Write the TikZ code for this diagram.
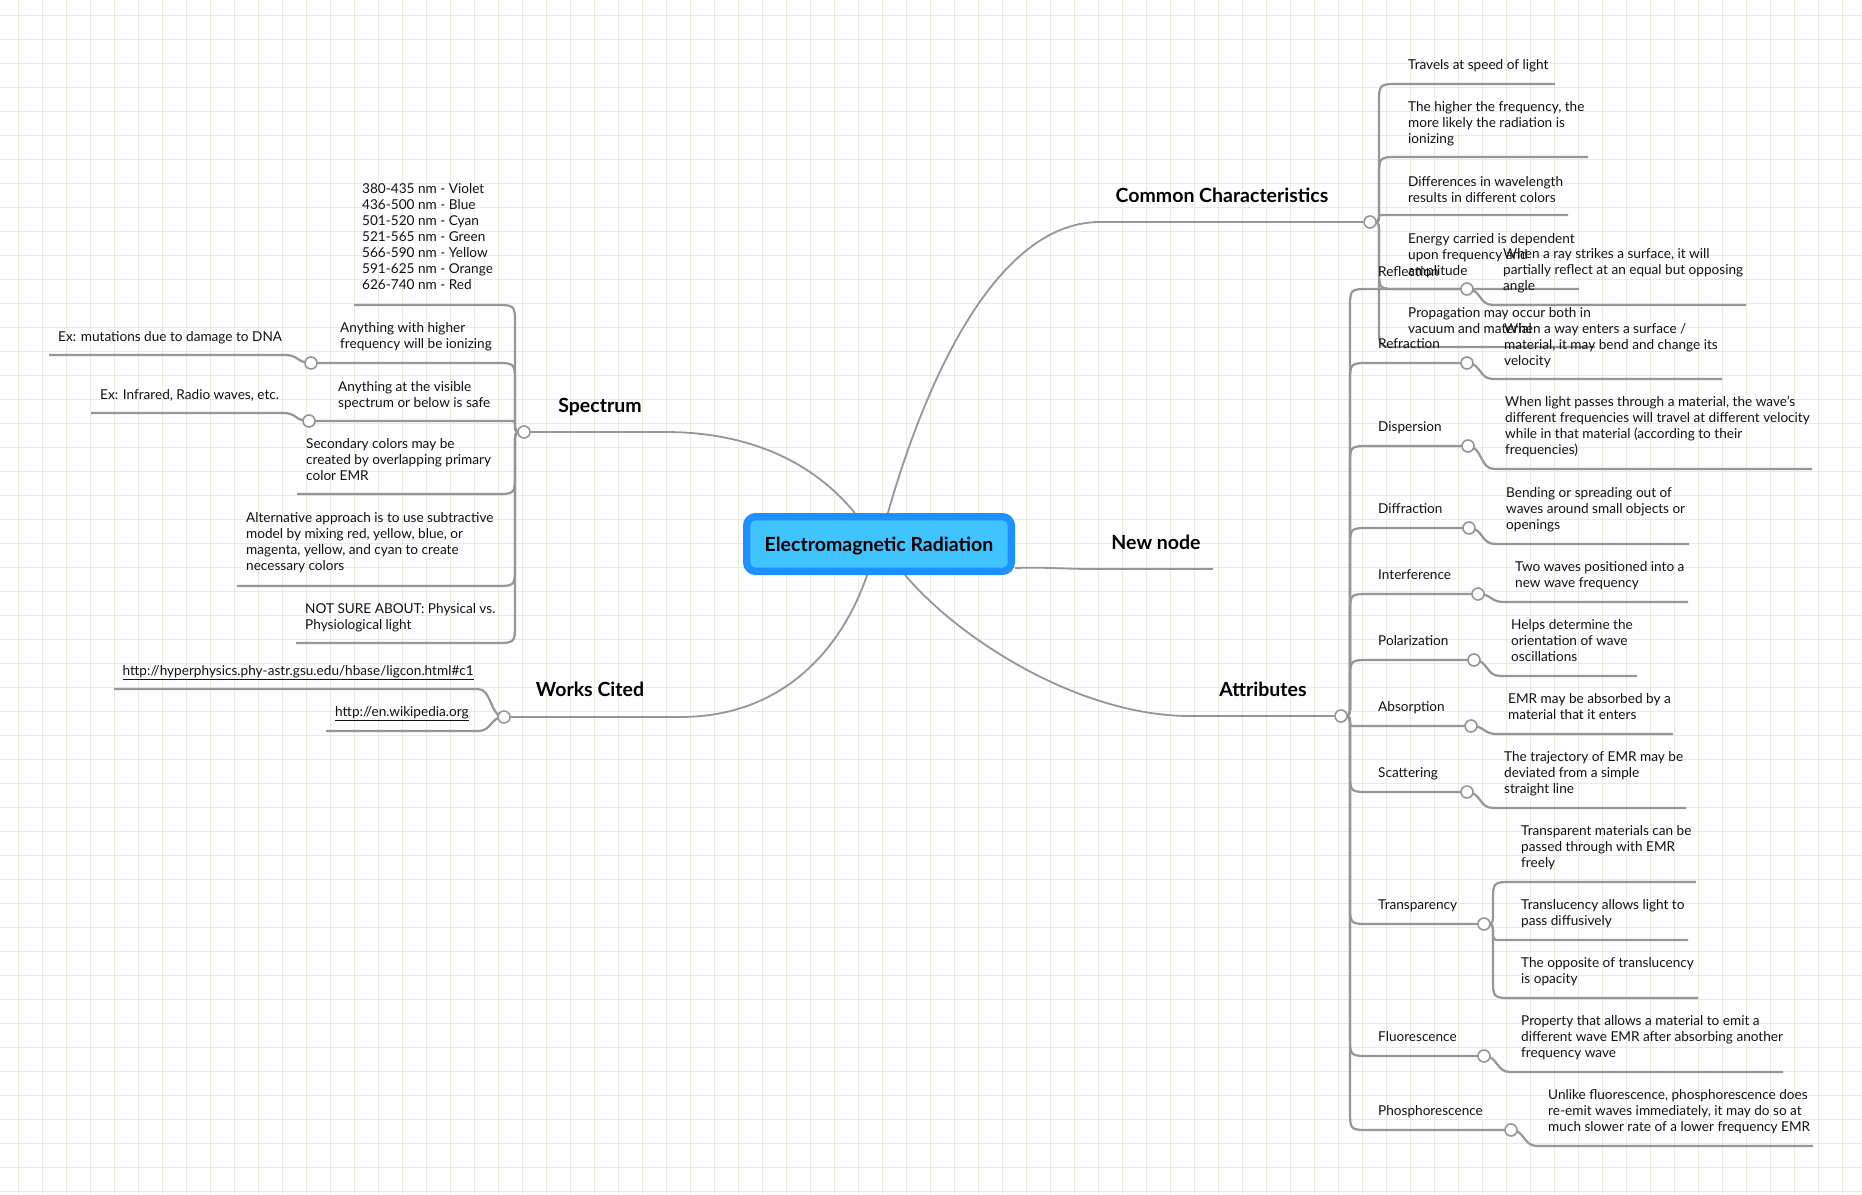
\documentclass[tikz,border=0pt]{standalone}
\usepackage{fontspec}
\setmainfont{Lato}
\usetikzlibrary{calc}
\pgfdeclarelayer{bg}
\pgfsetlayers{bg,main}
\definecolor{gridc}{HTML}{E4EEDC}
\definecolor{linec}{HTML}{969696}
\definecolor{rootline}{HTML}{1E90FF}
\definecolor{rootfill}{HTML}{40C4FF}
\definecolor{txtc}{HTML}{111111}
\begin{document}
\begin{tikzpicture}[x=1pt,y=-1pt,
  gridline/.style={gridc, line width=1pt},
  mainline/.style={linec, line width=1.8pt},
  conn/.style={linec, line width=2.2pt},
  knob/.style={circle, draw=linec, fill=white, line width=1.6pt, minimum size=12pt, inner sep=0pt},
  txt/.style={anchor=base west, inner sep=0pt, align=left, text=txtc, font=\fontsize{13.6}{16}\selectfont},
  topic/.style={anchor=base, inner sep=0pt, text=black, font=\fontsize{19.5}{22}\selectfont\bfseries},
  rootbox/.style={rounded corners=9pt, draw=rootline, line width=7.3pt, fill=rootfill,
    minimum width=264.7pt, minimum height=54.7pt, inner sep=0pt, text height=14pt, text depth=0pt,
    font=\fontsize{19.5}{22}\selectfont\bfseries},
  rbr/.style={to path={let \p1=(\tikztostart), \p2=(\tikztotarget),
    \n1={ifthenelse(\y2>\y1,1,-1)}, \n2={min(12,abs(\y2-\y1)/2)}, \n3={min(20,abs(\y2-\y1)/2)} in
    (\p1) .. controls (\x1+9pt,\y1) and (\x1+9pt,\y1) .. (\x1+9pt,\y1+\n1*\n2)
    -- (\x1+9pt,\y2-\n1*\n3) .. controls (\x1+9pt,\y2) and (\x1+9pt,\y2) .. (\x1+9pt+\n3,\y2) -- (\p2)}},
  lbr/.style={to path={let \p1=(\tikztostart), \p2=(\tikztotarget),
    \n1={ifthenelse(\y2>\y1,1,-1)}, \n2={min(12,abs(\y2-\y1)/2)}, \n3={min(20,abs(\y2-\y1)/2)} in
    (\p1) .. controls (\x1-9pt,\y1) and (\x1-9pt,\y1) .. (\x1-9pt,\y1+\n1*\n2)
    -- (\x1-9pt,\y2-\n1*\n3) .. controls (\x1-9pt,\y2) and (\x1-9pt,\y2) .. (\x1-9pt-\n3,\y2) -- (\p2)}},
  rs/.style={to path={let \p1=(\tikztostart), \p2=(\tikztotarget) in
    (\p1) .. controls (\x1+14pt,\y1) and (\x1+12pt,\y2) .. (\x1+26pt,\y2) -- (\p2)}},
  ls/.style={to path={let \p1=(\tikztostart), \p2=(\tikztotarget) in
    (\p1) .. controls (\x1-14pt,\y1) and (\x1-12pt,\y2) .. (\x1-26pt,\y2) -- (\p2)}}
]
\useasboundingbox (0,0) rectangle (1862,1194);

% ---------- root ----------
\node[rootbox] (root) at (879,544) {Electromagnetic Radiation};

% ---------- topics ----------
\node[topic] (tsp) at (600,412.5) {Spectrum};
\node[topic] (twc) at (590,696.5) {Works Cited};
\node[topic] (tcc) at (1222,202.5) {Common Characteristics};
\node[topic] (tat) at (1263,696.5) {Attributes};
\node[topic] (tnn) at (1156,549.5) {New node};

\node[knob] (sp) at (524,432) {};
\node[knob] (wc) at (504,717) {};
\node[knob] (cc) at (1370,222) {};
\node[knob] (at) at (1341,716) {};
\coordinate (nne) at (1213,569);

% ---------- Common Characteristics children (base = last line) ----------
\node[txt] (c1) at (1408,69.5) {Travels at speed of light};
\node[txt] (c2) at (1408,143.5) {The higher the frequency, the\\more likely the radiation is\\ionizing};
\node[txt] (c3) at (1408,202.5) {Differences in wavelength\\results in different colors};
\node[txt] (c4) at (1408,275.5) {Energy carried is dependent\\upon frequency and\\amplitude};
\node[txt] (c5) at (1408,333.5) {Propagation may occur both in\\vacuum and material};
\coordinate (c1e) at (1555,84);
\coordinate (c2e) at (1588,157);
\coordinate (c3e) at (1568,215);
\coordinate (c4e) at (1579,289);
\coordinate (c5e) at (1595,347);

% ---------- Attributes children ----------
\node[txt] (a1) at (1378,276.5) {Reflection};
\node[txt] (a2) at (1378,348.5) {Refraction};
\node[txt] (a3) at (1378,431.5) {Dispersion};
\node[txt] (a4) at (1378,513.5) {Diffraction};
\node[txt] (a5) at (1378,579.5) {Interference};
\node[txt] (a6) at (1378,645.5) {Polarization};
\node[txt] (a7) at (1378,711.5) {Absorption};
\node[txt] (a8) at (1378,777.5) {Scattering};
\node[txt] (a9) at (1378,909.5) {Transparency};
\node[txt] (a10) at (1378,1041.5) {Fluorescence};
\node[txt] (a11) at (1378,1115.5) {Phosphorescence};

\node[knob] (k1) at (1467,289) {};
\node[knob] (k2) at (1467,363) {};
\node[knob] (k3) at (1468,446) {};
\node[knob] (k4) at (1469,528) {};
\node[knob] (k5) at (1478,594) {};
\node[knob] (k6) at (1474,660) {};
\node[knob] (k7) at (1471,726) {};
\node[knob] (k8) at (1467,792) {};
\node[knob] (k9) at (1484,924) {};
\node[knob] (k10) at (1484,1056) {};
\node[knob] (k11) at (1511,1130) {};

\node[txt] (g1) at (1503,290.5) {When a ray strikes a surface, it will\\partially reflect at an equal but opposing\\angle};
\node[txt] (g2) at (1504,365.5) {When a way enters a surface /\\material, it may bend and change its\\velocity};
\node[txt] (g3) at (1505,454.5) {When light passes through a material, the wave's\\different frequencies will travel at different velocity\\while in that material (according to their\\frequencies)};
\node[txt] (g4) at (1506,529.5) {Bending or spreading out of\\waves around small objects or\\openings};
\node[txt] (g5) at (1515,587.5) {Two waves positioned into a\\new wave frequency};
\node[txt] (g6) at (1511,661.5) {Helps determine the\\orientation of wave\\oscillations};
\node[txt] (g7) at (1508,719.5) {EMR may be absorbed by a\\material that it enters};
\node[txt] (g8) at (1504,793.5) {The trajectory of EMR may be\\deviated from a simple\\straight line};
\node[txt] (t1) at (1521,867.5) {Transparent materials can be\\passed through with EMR\\freely};
\node[txt] (t2) at (1521,925.5) {Translucency allows light to\\pass diffusively};
\node[txt] (t3) at (1521,983.5) {The opposite of translucency\\is opacity};
\node[txt] (g10) at (1521,1057.5) {Property that allows a material to emit a\\different wave EMR after absorbing another\\frequency wave};
\node[txt] (g11) at (1548,1131.5) {Unlike fluorescence, phosphorescence does\\re-emit waves immediately, it may do so at\\much slower rate of a lower frequency EMR};
\coordinate (g1e) at (1746,305);
\coordinate (g2e) at (1722,379);
\coordinate (g3e) at (1812,469);
\coordinate (g4e) at (1689,544);
\coordinate (g5e) at (1688,602);
\coordinate (g6e) at (1637,676);
\coordinate (g7e) at (1673,734);
\coordinate (g8e) at (1686,808);
\coordinate (t1e) at (1696,882);
\coordinate (t2e) at (1688,940);
\coordinate (t3e) at (1698,998);
\coordinate (g10e) at (1783,1072);
\coordinate (g11e) at (1813,1146);

% ---------- Spectrum children ----------
\node[txt] (s1) at (362,289.5) {380-435 nm - Violet\\436-500 nm - Blue\\501-520 nm - Cyan\\521-565 nm - Green\\566-590 nm - Yellow\\591-625 nm - Orange\\626-740 nm - Red};
\node[txt] (s2) at (340,348.5) {Anything with higher\\frequency will be ionizing};
\node[txt] (s3) at (338,407.5) {Anything at the visible\\spectrum or below is safe};
\node[txt] (s4) at (306,480.5) {Secondary colors may be\\created by overlapping primary\\color EMR};
\node[txt] (s5) at (246,570.5) {Alternative approach is to use subtractive\\model by mixing red, yellow, blue, or\\magenta, yellow, and cyan to create\\necessary colors};
\node[txt] (s6) at (305,629.5) {NOT SURE ABOUT: Physical vs.\\Physiological light};
\node[txt] (x1) at (58,341.5) {Ex: mutations due to damage to DNA};
\node[txt] (x2) at (100,399.5) {Ex: Infrared, Radio waves, etc.};
\node[knob] (e1) at (311,363) {};
\node[knob] (e2) at (309,421) {};
\coordinate (s1e) at (354,305);
\coordinate (s4e) at (297,494);
\coordinate (s5e) at (237,586);
\coordinate (s6e) at (296,643);
\coordinate (x1e) at (49,355);
\coordinate (x2e) at (91,413);

% ---------- Works Cited children ----------
\node[txt] (w1) at (122.5,675.5) {\underline{http://hyperphysics.phy-astr.gsu.edu/hbase/ligcon.html\#c1}};
\node[txt] (w2) at (335,716.5) {\underline{http://en.wikipedia.org}};
\coordinate (w1e) at (114,689);
\coordinate (w2e) at (326,731);

% ---------- background: grid and connectors ----------
\begin{pgfonlayer}{bg}
  \fill[white] (0,0) rectangle (1862,1194);
  \foreach \i in {0,...,76} \draw[gridline] (18+24*\i,0) -- (18+24*\i,1194);
  \foreach \j in {0,...,49} \draw[gridline] (0,15+24*\j) -- (1862,15+24*\j);

  % main branches
  \draw[mainline] (root.128) .. controls (820,470) and (760,432) .. (665,432) -- (sp);
  \draw[mainline] (root.-111) .. controls (845,640) and (790,717) .. (680,717) -- (wc);
  \draw[mainline] (root.74) .. controls (920,400) and (990,222) .. (1100,222) -- (cc);
  \draw[mainline] (root.-50) .. controls (960,640) and (1080,716) .. (1190,716) -- (at);
  \draw[mainline] (root.-10) .. controls (1050,567) and (1060,569) .. (1095,569) -- (nne);

  % common characteristics
  \foreach \t in {c1e,c2e,c3e,c4e,c5e} \draw[conn] (cc) to[rbr] (\t);
  % attributes
  \foreach \t in {k1,k2,k3,k4,k5,k6,k7,k8,k9,k10,k11} \draw[conn] (at) to[rbr] (\t);
  \draw[conn] (k1) to[rs] (g1e);
  \draw[conn] (k2) to[rs] (g2e);
  \draw[conn] (k3) to[rs] (g3e);
  \draw[conn] (k4) to[rs] (g4e);
  \draw[conn] (k5) to[rs] (g5e);
  \draw[conn] (k6) to[rs] (g6e);
  \draw[conn] (k7) to[rs] (g7e);
  \draw[conn] (k8) to[rs] (g8e);
  \foreach \t in {t1e,t2e,t3e} \draw[conn] (k9) to[rbr] (\t);
  \draw[conn] (k10) to[rs] (g10e);
  \draw[conn] (k11) to[rs] (g11e);
  % spectrum
  \foreach \t in {s1e,e1,e2,s4e,s5e,s6e} \draw[conn] (sp) to[lbr] (\t);
  \draw[conn] (e1) to[ls] (x1e);
  \draw[conn] (e2) to[ls] (x2e);
  % works cited
  \draw[conn] (wc) to[ls] (w1e);
  \draw[conn] (wc) to[ls] (w2e);
\end{pgfonlayer}
\end{tikzpicture}
\end{document}
